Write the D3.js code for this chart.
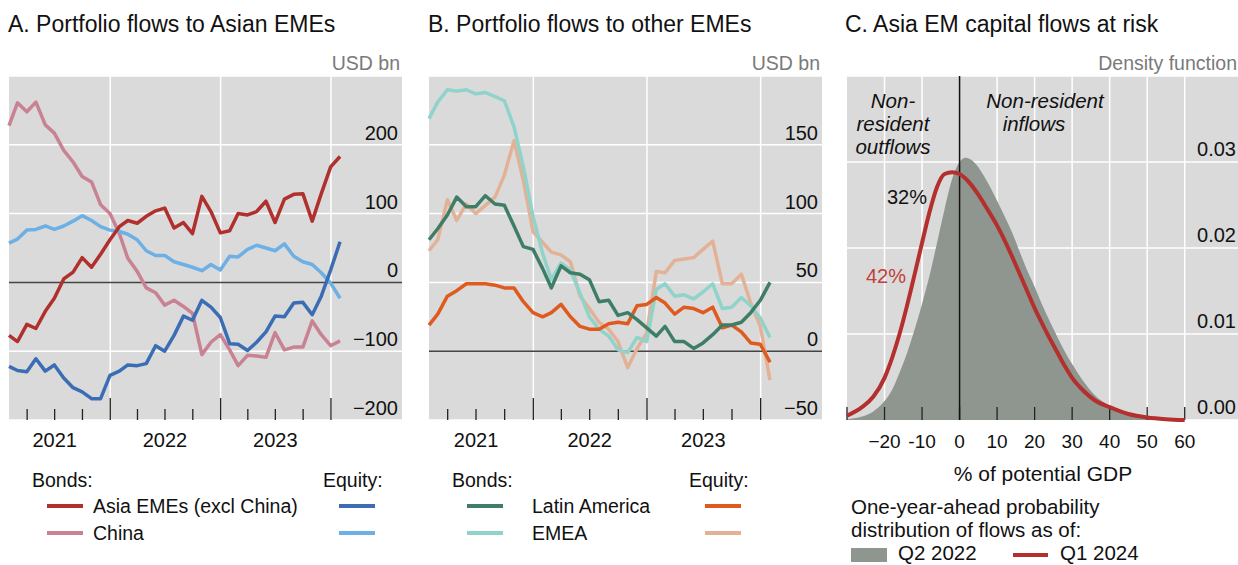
<!DOCTYPE html>
<html>
<head>
<meta charset="utf-8">
<script src="https://cdn.jsdelivr.net/npm/d3@7/dist/d3.min.js"></script>
<style>
  body { margin: 0; background: #fff; }
  text { font-family: "Liberation Sans", Arial, sans-serif; fill: #111; }
</style>
</head>
<body>
<svg id="chart" width="1238" height="565"></svg>
<script>
// Months Jan 2021 .. Jan 2024 (values plotted at month end)
var months = d3.timeMonth.range(new Date(2021, 0, 1), new Date(2024, 1, 1));

// Panel A, USD bn
var asiaBonds   = [-77, -86, -61, -67, -42, -23, 5, 15, 36, 22, 41, 62, 81, 90, 86, 96, 104, 108, 79, 87,
                   71, 125, 103, 72, 75, 100, 98, 103, 118, 87, 121, 128, 129, 89, 129, 168, 183];
var chinaBonds  = [228, 261, 248, 262, 229, 217, 192, 175, 154, 146, 113, 100, 71, 35, 16, -8, -15, -33, -26, -35,
                   -45, -105, -87, -76, -98, -121, -106, -107, -109, -73, -98, -94, -94, -56, -76, -92, -85];
var asiaEquity  = [-122, -128, -130, -111, -129, -120, -139, -153, -159, -169, -169, -135, -129, -120, -121, -118, -92, -100, -77, -49,
                   -55, -26, -36, -51, -89, -90, -99, -87, -72, -49, -50, -30, -29, -47, -20, 18, 59];
var chinaEquity = [57, 63, 76, 77, 82, 77, 82, 89, 97, 90, 81, 76, 74, 70, 62, 46, 39, 39, 30, 26,
                   22, 17, 26, 18, 38, 37, 48, 54, 50, 46, 56, 38, 30, 26, 14, -1, -23];

// Panel B, USD bn
var latamBonds  = [81, 89, 99, 112, 105, 105, 113, 107, 106, 91, 76, 74, 60, 46, 62, 57, 56, 52, 36, 37,
                   26, 28, 23, 17, 11, 18, 7, 7, 2, 6, 12, 19, 19, 21, 28, 37, 50];
var emeaBonds   = [169, 181, 190, 189, 190, 187, 188, 185, 182, 163, 134, 98, 71, 52, 64, 59, 42, 25, 16, 11,
                   1, -1, 10, 7, 45, 49, 40, 41, 38, 43, 49, 31, 32, 39, 33, 24, 10];
var latamEquity = [19, 27, 40, 44, 49, 49, 49, 48, 46, 46, 36, 28, 25, 28, 34, 25, 18, 16, 16, 20,
                   21, 20, 33, 34, 39, 35, 27, 32, 31, 28, 32, 17, 19, 14, 6, 5, -8];
var emeaEquity  = [73, 81, 110, 95, 107, 100, 106, 112, 128, 153, 124, 87, 79, 72, 70, 65, 40, 31, 21, 16,
                   7, -12, 2, 13, 58, 57, 66, 67, 68, 74, 80, 49, 49, 56, 35, 18, -21];

// Panel C, density over % of potential GDP
var gdpGrid   = [-30, -26, -23, -20, -18, -16, -14, -12, -10, -8, -6, -4, -2, 0, 1.5, 3, 5, 7, 10, 12,
                 14, 16, 18, 20, 22, 24, 26, 28, 30, 33, 36, 40, 45, 50, 55, 60];
var densQ2022 = [0.0001, 0.0004, 0.0010, 0.0022, 0.0035, 0.0055, 0.0078, 0.0105, 0.0135, 0.0168, 0.0206, 0.0245, 0.0280, 0.0300, 0.0305, 0.0303, 0.0294, 0.0280, 0.0255, 0.0237,
                 0.0218, 0.0196, 0.0174, 0.0155, 0.0134, 0.0115, 0.0097, 0.0080, 0.0065, 0.0045, 0.0029, 0.0016, 0.0006, 0.0002, 0.0001, 0.0000];
var densQ2024 = [0.0005, 0.0015, 0.0027, 0.0049, 0.0072, 0.0100, 0.0133, 0.0169, 0.0206, 0.0242, 0.0271, 0.0286, 0.0288, 0.0286, 0.0281, 0.0274, 0.0262, 0.0248, 0.0226, 0.0209,
                 0.0190, 0.0170, 0.0150, 0.0130, 0.0112, 0.0095, 0.0079, 0.0063, 0.0049, 0.0034, 0.0023, 0.0015, 0.0007, 0.0003, 0.0001, 0.0000];

// Tick values
var yTicksA = [-200, -100, 0, 100, 200, 300];
var yTicksB = [-50, 0, 50, 100, 150, 200];
var yTicksC = [0, 0.01, 0.02, 0.03, 0.04];
var xTicksC = [-30, -20, -10, 0, 10, 20, 30, 40, 50, 60];
var xLabelsC = ["", "\u221220", "-10", "0", "10", "20", "30", "40", "50", "60"];
var yearLabels = [2021, 2022, 2023];

var bgGrey = "#dadada";
var svg = d3.select("#chart");

function monthEnd(m) { return new Date(m.getFullYear(), m.getMonth() + 1, 0); }

function timePanel(opt) {
    var top = 76, bottom = 420;
    var x = d3.scaleTime().domain(opt.xDomain).range([opt.left, opt.right]);
    var y = d3.scaleLinear().domain(opt.yDomain).range([bottom, top]);
    var g = svg.append("g");

    g.append("rect")
     .attr("x", opt.left).attr("y", top)
     .attr("width", opt.right - opt.left).attr("height", bottom - top)
     .attr("fill", bgGrey);

    // horizontal gridlines
    g.selectAll("line.hgrid")
     .data(opt.yTicks.filter(function(d) { return d !== 0; }))
     .enter().append("line")
     .attr("x1", opt.left).attr("x2", opt.right)
     .attr("y1", function(d) { return y(d); }).attr("y2", function(d) { return y(d); })
     .attr("stroke", "#fff").attr("stroke-width", 1.5);

    // vertical year gridlines
    var years = [new Date(2022, 0, 1), new Date(2023, 0, 1), new Date(2024, 0, 1)];
    g.selectAll("line.vgrid")
     .data(years)
     .enter().append("line")
     .attr("x1", function(d) { return x(d); }).attr("x2", function(d) { return x(d); })
     .attr("y1", top).attr("y2", bottom)
     .attr("stroke", "#fff").attr("stroke-width", 1.5);

    // zero line
    g.append("line")
     .attr("x1", opt.left).attr("x2", opt.right)
     .attr("y1", y(0)).attr("y2", y(0))
     .attr("stroke", "#444").attr("stroke-width", 1.5);

    // quarter ticks, longer at year start
    var quarters = d3.timeMonth.every(3).range(new Date(2021, 3, 1), new Date(2024, 0, 2));
    g.selectAll("line.tick")
     .data(quarters)
     .enter().append("line")
     .attr("x1", function(d) { return x(d); }).attr("x2", function(d) { return x(d); })
     .attr("y1", function(d) { return d.getMonth() === 0 ? bottom - 22 : bottom - 11; })
     .attr("y2", bottom)
     .attr("stroke", "#222").attr("stroke-width", 1.3);

    // series
    var line = d3.line()
                 .x(function(d, i) { return x(monthEnd(months[i])); })
                 .y(function(d) { return y(d); });
    opt.series.forEach(function(s) {
        g.append("path")
         .datum(s.values)
         .attr("d", line)
         .attr("fill", "none")
         .attr("stroke", s.color)
         .attr("stroke-width", 3.5)
         .attr("stroke-linejoin", "round");
    });

    // y labels, inside plot on right
    g.selectAll("text.ylab")
     .data(opt.yTicks.filter(function(d) { return d < opt.yDomain[1]; }))
     .enter().append("text")
     .attr("x", opt.right - 4)
     .attr("y", function(d) { return y(d) - 5; })
     .attr("text-anchor", "end")
     .style("font-size", "20px")
     .text(d3.format("d"));

    // year labels
    g.selectAll("text.year")
     .data(yearLabels)
     .enter().append("text")
     .attr("x", function(d) { return x(new Date(d, 6, 1)); })
     .attr("y", 447)
     .attr("text-anchor", "middle")
     .style("font-size", "20px")
     .text(function(d) { return d; });

    g.append("text")
     .attr("x", opt.right - 2).attr("y", 70)
     .attr("text-anchor", "end")
     .style("font-size", "19.5px").style("fill", "#7a7a7a")
     .text("USD bn");

    g.append("text")
     .attr("x", opt.left - 1).attr("y", 32)
     .style("font-size", "23px")
     .text(opt.title);

    // legend
    var lg = svg.append("g").attr("transform", "translate(" + opt.legendX + ",0)");
    lg.append("text").attr("x", 0).attr("y", 487).style("font-size", "19.5px").text("Bonds:");
    lg.append("text").attr("x", opt.equityX).attr("y", 487).style("font-size", "19.5px").text("Equity:");
    opt.legend.forEach(function(row, i) {
        var yy = 506 + i * 27;
        lg.append("line")
          .attr("x1", 15).attr("x2", 51).attr("y1", yy).attr("y2", yy)
          .attr("stroke", row.bond).attr("stroke-width", 4);
        lg.append("line")
          .attr("x1", opt.equityX + 16).attr("x2", opt.equityX + 52).attr("y1", yy).attr("y2", yy)
          .attr("stroke", row.equity).attr("stroke-width", 4);
        lg.append("text")
          .attr("x", opt.labelX).attr("y", yy + 7)
          .style("font-size", "19.5px")
          .text(row.name);
    });
}

var colors = {
    asiaBonds: "#b0302e", chinaBonds: "#c98292",
    asiaEquity: "#3b6db4", chinaEquity: "#6cb0e6",
    latamBonds: "#3f7e66", emeaBonds: "#8fd3ca",
    latamEquity: "#df5a1f", emeaEquity: "#e3b296"
};

timePanel({
    title: "A. Portfolio flows to Asian EMEs",
    left: 9, right: 402,
    xDomain: [new Date(2021, 0, 31), new Date(2024, 7, 23)],
    yDomain: [-200, 300], yTicks: yTicksA,
    series: [
        { values: chinaBonds, color: colors.chinaBonds },
        { values: chinaEquity, color: colors.chinaEquity },
        { values: asiaEquity, color: colors.asiaEquity },
        { values: asiaBonds, color: colors.asiaBonds }
    ],
    legendX: 32, equityX: 291, labelX: 61,
    legend: [
        { name: "Asia EMEs (excl China)", bond: colors.asiaBonds, equity: colors.asiaEquity },
        { name: "China", bond: colors.chinaBonds, equity: colors.chinaEquity }
    ]
});

timePanel({
    title: "B. Portfolio flows to other EMEs",
    left: 429, right: 822,
    xDomain: [new Date(2021, 0, 31), new Date(2024, 6, 16)],
    yDomain: [-50, 200], yTicks: yTicksB,
    series: [
        { values: emeaEquity, color: colors.emeaEquity },
        { values: emeaBonds, color: colors.emeaBonds },
        { values: latamEquity, color: colors.latamEquity },
        { values: latamBonds, color: colors.latamBonds }
    ],
    legendX: 452, equityX: 237, labelX: 80,
    legend: [
        { name: "Latin America", bond: colors.latamBonds, equity: colors.latamEquity },
        { name: "EMEA", bond: colors.emeaBonds, equity: colors.emeaEquity }
    ]
});

// Panel C
(function() {
    var left = 847, right = 1238, top = 76, bottom = 420;
    var x = d3.scaleLinear().domain([-30, 74.2]).range([left, right]);
    var y = d3.scaleLinear().domain([0, 0.04]).range([bottom, top]);
    var g = svg.append("g");

    g.append("rect")
     .attr("x", left).attr("y", top)
     .attr("width", right - left).attr("height", bottom - top)
     .attr("fill", bgGrey);

    g.selectAll("line.hgrid")
     .data(yTicksC)
     .enter().append("line")
     .attr("x1", left).attr("x2", right)
     .attr("y1", function(d) { return y(d); }).attr("y2", function(d) { return y(d); })
     .attr("stroke", "#fff").attr("stroke-width", 1.5);

    g.selectAll("line.vgrid")
     .data(xTicksC.filter(function(d) { return d > -30 && d !== 0; }))
     .enter().append("line")
     .attr("x1", function(d) { return x(d); }).attr("x2", function(d) { return x(d); })
     .attr("y1", top).attr("y2", bottom)
     .attr("stroke", "#fff").attr("stroke-width", 1.5);

    var pts = gdpGrid.map(function(v, i) { return { x: v, a: densQ2022[i], b: densQ2024[i] }; });

    g.append("path")
     .datum(pts)
     .attr("d", d3.area()
                  .curve(d3.curveMonotoneX)
                  .x(function(d) { return x(d.x); })
                  .y0(y(0))
                  .y1(function(d) { return y(d.a); }))
     .attr("fill", "#8f968f");

    g.selectAll("line.tick")
     .data(xTicksC)
     .enter().append("line")
     .attr("x1", function(d) { return x(d); }).attr("x2", function(d) { return x(d); })
     .attr("y1", bottom - 13).attr("y2", bottom)
     .attr("stroke", "#222").attr("stroke-width", 1.3);

    g.append("line")
     .attr("x1", x(0)).attr("x2", x(0))
     .attr("y1", top).attr("y2", bottom)
     .attr("stroke", "#111").attr("stroke-width", 1.5);

    g.append("path")
     .datum(pts)
     .attr("d", d3.line()
                  .curve(d3.curveMonotoneX)
                  .x(function(d) { return x(d.x); })
                  .y(function(d) { return y(d.b); }))
     .attr("fill", "none")
     .attr("stroke", "#b3302e")
     .attr("stroke-width", 4);

    g.selectAll("text.ylab")
     .data(yTicksC.filter(function(d) { return d < 0.04; }))
     .enter().append("text")
     .attr("x", right - 2)
     .attr("y", function(d) { return y(d) - 6; })
     .attr("text-anchor", "end")
     .style("font-size", "20px")
     .text(d3.format(".2f"));

    g.selectAll("text.xlab")
     .data(xTicksC)
     .enter().append("text")
     .attr("x", function(d) { return x(d); })
     .attr("y", 448)
     .attr("text-anchor", "middle")
     .style("font-size", "19px")
     .text(function(d, i) { return xLabelsC[i]; });

    g.append("text")
     .attr("x", 1043).attr("y", 481)
     .attr("text-anchor", "middle")
     .style("font-size", "21px")
     .text("% of potential GDP");

    g.append("text")
     .attr("x", right - 1).attr("y", 70)
     .attr("text-anchor", "end")
     .style("font-size", "19.5px").style("fill", "#7a7a7a")
     .text("Density function");

    g.append("text")
     .attr("x", left - 2).attr("y", 32)
     .style("font-size", "23px")
     .text("C. Asia EM capital flows at risk");

    // annotations
    var outflows = ["Non-", "resident", "outflows"];
    g.selectAll("text.out")
     .data(outflows)
     .enter().append("text")
     .attr("x", 893)
     .attr("y", function(d, i) { return 108 + i * 23; })
     .attr("text-anchor", "middle")
     .style("font-size", "20.5px").style("font-style", "italic")
     .text(function(d) { return d; });

    var inflows = ["Non-resident", "inflows"];
    g.selectAll("text.in")
     .data(inflows)
     .enter().append("text")
     .attr("x", function(d, i) { return i === 0 ? 1045 : 1034; })
     .attr("y", function(d, i) { return 108 + i * 23; })
     .attr("text-anchor", "middle")
     .style("font-size", "20.5px").style("font-style", "italic")
     .text(function(d) { return d; });

    g.append("text").attr("x", 887).attr("y", 204)
     .style("font-size", "20px").text("32%");
    g.append("text").attr("x", 866).attr("y", 283)
     .style("font-size", "20px").style("fill", "#c0403a").text("42%");

    // legend
    g.append("text").attr("x", 851).attr("y", 513.5)
     .style("font-size", "20.5px").text("One-year-ahead probability");
    g.append("text").attr("x", 851).attr("y", 536.5)
     .style("font-size", "20.5px").text("distribution of flows as of:");
    g.append("rect").attr("x", 851).attr("y", 548).attr("width", 36).attr("height", 14)
     .attr("fill", "#8f968f");
    g.append("text").attr("x", 898).attr("y", 560)
     .style("font-size", "20.5px").text("Q2 2022");
    g.append("line").attr("x1", 1013).attr("x2", 1048).attr("y1", 555).attr("y2", 555)
     .attr("stroke", "#b3302e").attr("stroke-width", 4);
    g.append("text").attr("x", 1060).attr("y", 560)
     .style("font-size", "20.5px").text("Q1 2024");
})();
</script>
</body>
</html>
